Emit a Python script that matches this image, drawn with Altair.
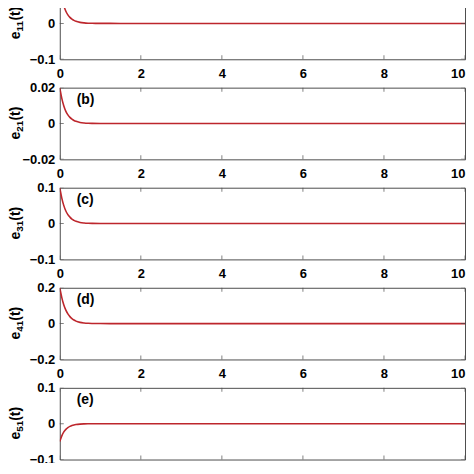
import altair as alt
import pandas as pd

# time samples
t = [0, 0.05, 0.1, 0.15, 0.2, 0.25, 0.3, 0.35, 0.4, 0.5, 0.6, 0.7, 0.8, 1.0,
     1.5, 2, 3, 4, 5, 6, 7, 8, 9, 10]

e11 = [0.1, 0.070, 0.049, 0.034, 0.024, 0.017, 0.012, 0.0085, 0.006, 0.003, 0.0015, 0.0007, 0.0003, 0.0001,
       0, 0, 0, 0, 0, 0, 0, 0, 0, 0]
e21 = [0.02, 0.014, 0.0098, 0.0068, 0.0048, 0.0034, 0.0024, 0.0017, 0.0012, 0.0006, 0.0003, 0.00014, 0.00007, 0.00002,
       0, 0, 0, 0, 0, 0, 0, 0, 0, 0]
e31 = [0.1, 0.071, 0.050, 0.035, 0.025, 0.018, 0.0125, 0.009, 0.0063, 0.0031, 0.0016, 0.0008, 0.0004, 0.0001,
       0, 0, 0, 0, 0, 0, 0, 0, 0, 0]
e41 = [0.2, 0.145, 0.104, 0.075, 0.054, 0.039, 0.028, 0.020, 0.014, 0.007, 0.0036, 0.0018, 0.0009, 0.0002,
       0, 0, 0, 0, 0, 0, 0, 0, 0, 0]
e51 = [-0.05, -0.034, -0.023, -0.016, -0.011, -0.0076, -0.0052, -0.0036, -0.0025, -0.0012, -0.0006, -0.0003, -0.00014, -0.00003,
       0, 0, 0, 0, 0, 0, 0, 0, 0, 0]

x_ticks = [0, 2, 4, 6, 8, 10]
panel_labels = ["(a)", "(b)", "(c)", "(d)", "(e)"]
y_subscripts = ["11", "21", "31", "41", "51"]
series = [e11, e21, e31, e41, e51]
y_ticks = [[-0.1, 0, 0.1], [-0.02, 0, 0.02], [-0.1, 0, 0.1], [-0.2, 0, 0.2], [-0.1, 0, 0.1]]

RED = "#bd262c"
GRAY = "#4d4d4d"
FONT = "Liberation Sans"
W, H = 407, 72


def txt(s, size, x, y, angle=0, align="left", baseline="alphabetic"):
    return alt.Chart(pd.DataFrame({"s": [s]})).mark_text(
        align=align, baseline=baseline, fontSize=size, fontWeight="bold", font=FONT,
        color="black", angle=angle
    ).encode(text="s:N", x=alt.value(x), y=alt.value(y))


def panel(label, sub, vals, yt):
    df = pd.DataFrame({"t": t, "e": vals})
    xs = alt.Scale(domain=[0, 10], nice=False, zero=False)
    ys = alt.Scale(domain=[yt[0], yt[-1]], nice=False, zero=False)
    xa = alt.Axis(values=x_ticks, title=None, labelFlush=False, labelPadding=8,
                  labelAlign={"expr": "datum.value == 10 ? 'right' : 'center'"})
    ya = alt.Axis(values=yt, title=None, format="~g", labelPadding=5)
    line = alt.Chart(df).mark_line(color=RED, strokeWidth=1.6, interpolate="monotone", clip=True).encode(
        x=alt.X("t:Q", scale=xs, axis=xa),
        y=alt.Y("e:Q", scale=ys, axis=ya),
    )
    xdf = pd.DataFrame({"t": x_ticks})
    ydf = pd.DataFrame({"e": yt})
    xt_bot = alt.Chart(xdf).mark_tick(clip=True, size=8, thickness=1, color=GRAY, orient="vertical").encode(
        x=alt.X("t:Q", scale=xs, axis=xa), y=alt.value(H))
    xt_top = alt.Chart(xdf).mark_tick(clip=True, size=8, thickness=1, color=GRAY, orient="vertical").encode(
        x=alt.X("t:Q", scale=xs, axis=xa), y=alt.value(0))
    yt_l = alt.Chart(ydf).mark_tick(clip=True, size=8, thickness=1, color=GRAY, orient="horizontal").encode(
        y=alt.Y("e:Q", scale=ys, axis=ya), x=alt.value(0))
    yt_r = alt.Chart(ydf).mark_tick(clip=True, size=8, thickness=1, color=GRAY, orient="horizontal").encode(
        y=alt.Y("e:Q", scale=ys, axis=ya), x=alt.value(W))
    lab = txt(label, 14, 17, 12, baseline="middle")
    # rotated y title e_{ij}(t)
    y0 = H / 2 + 16
    t_e = txt("e", 14, -40, y0, angle=270)
    t_sub = txt(sub, 10, -36.5, y0 - 7.8, angle=270)
    t_t = txt("(t)", 14, -40, y0 - 7.8 - 11.1, angle=270)
    return alt.layer(line, xt_bot, xt_top, yt_l, yt_r, lab, t_e, t_sub, t_t).properties(width=W, height=H)


charts = [panel(l, s_, s, ytk) for l, s_, s, ytk in zip(panel_labels, y_subscripts, series, y_ticks)]

chart = alt.vconcat(*charts, spacing=28.5, bounds="flush").properties(
    padding={"left": 0, "top": -28.5, "right": 0, "bottom": -20}
).configure_view(stroke=GRAY, strokeWidth=1).configure_axis(
    domain=False, ticks=False, grid=False,
    labelFont=FONT, labelFontSize=13, labelFontWeight="bold", labelColor="black",
)

chart.save("out.html", embed_options={"renderer": "svg", "actions": False})
